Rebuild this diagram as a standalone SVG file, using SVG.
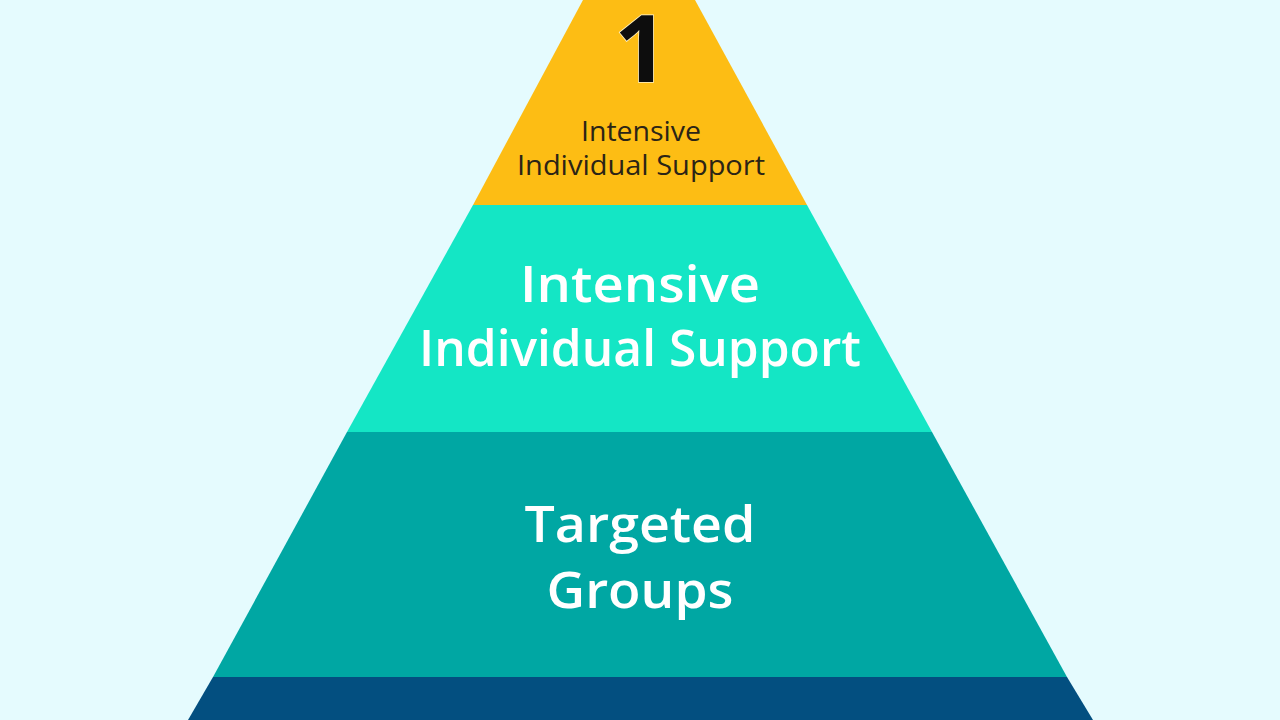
<svg xmlns="http://www.w3.org/2000/svg" width="1280" height="720" viewBox="0 0 1280 720">
<style>
text{font-family:"Open Sans","Noto Sans","Liberation Sans",sans-serif;text-anchor:middle}
.w{fill:#fff;font-weight:600;font-size:50px}
.k{fill:#2b2416;font-size:27px;font-weight:500}
</style>
<rect id="background" width="1280" height="720" fill="#e5fbfe"/>
<g id="tier-top">
<polygon points="583,0 695,0 807,205 473,205" fill="#fdbd14"/>
<text x="641" y="82" font-size="94" font-weight="700" fill="#0d0d0d" stroke="#fff3c8" stroke-width="1.5" paint-order="stroke">1</text>
<text class="k" x="641" y="141" textLength="120" lengthAdjust="spacingAndGlyphs">Intensive</text>
<text class="k" x="641" y="175" textLength="248" lengthAdjust="spacingAndGlyphs">Individual Support</text>
</g>
<g id="tier-intensive">
<polygon points="473,205 807,205 932,432 347,432" fill="#14e6c5"/>
<text class="w" x="640" y="302" textLength="240" lengthAdjust="spacingAndGlyphs">Intensive</text>
<text class="w" x="640" y="366" textLength="442" lengthAdjust="spacingAndGlyphs">Individual Support</text>
</g>
<g id="tier-targeted">
<polygon points="347,432 932,432 1067,677 213,677" fill="#00a7a3"/>
<text class="w" x="640" y="542" textLength="231" lengthAdjust="spacingAndGlyphs">Targeted</text>
<text class="w" x="640" y="608" textLength="187" lengthAdjust="spacingAndGlyphs">Groups</text>
</g>
<g id="tier-base">
<polygon points="213,677 1067,677 1093,720 188,720" fill="#034f80"/>
</g>
</svg>
